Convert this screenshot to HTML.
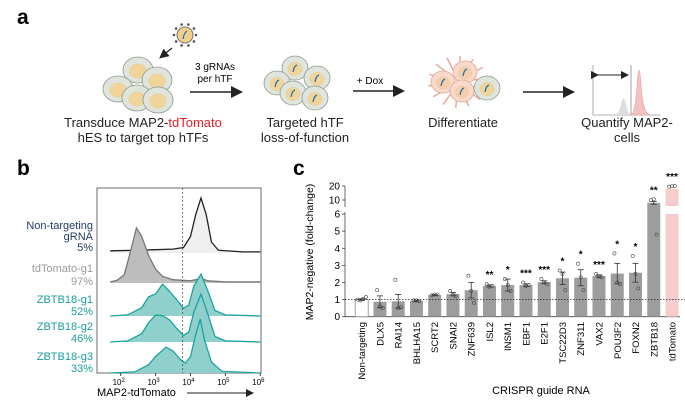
<!DOCTYPE html>
<html><head><meta charset="utf-8"><style>
body{margin:0;background:#fff}
svg{display:block;font-family:"Liberation Sans",sans-serif}
</style></head><body>
<svg id="fig" width="685" height="400" viewBox="0 0 685 400" xmlns="http://www.w3.org/2000/svg">
<defs><marker id="ah" markerWidth="8" markerHeight="8" refX="6" refY="4" orient="auto"><path d="M0,0 L8,4 L0,8 z" fill="#222"/></marker></defs>
<g>
<text x="17" y="24" font-size="21" font-weight="bold">a</text>
<g id="virus"></g>
<line x1="172" y1="48" x2="161" y2="57" stroke="#222" stroke-width="1.2" marker-end="url(#ah)"/>
<g id="c1"></g>
<text x="215" y="70" font-size="10" text-anchor="middle">3 gRNAs</text>
<text x="215" y="82" font-size="10" text-anchor="middle">per hTF</text>
<line x1="190" y1="92" x2="240" y2="92" stroke="#222" stroke-width="1.5" marker-end="url(#ah)"/>
<g id="c2"></g>
<text x="370" y="84" font-size="10" text-anchor="middle">+ Dox</text>
<line x1="353" y1="91" x2="402" y2="91" stroke="#222" stroke-width="1.5" marker-end="url(#ah)"/>
<g id="c3"></g>
<line x1="523" y1="92" x2="572" y2="92" stroke="#222" stroke-width="1.5" marker-end="url(#ah)"/>
<g>
<polyline points="593,65 593,115 660,115" fill="none" stroke="#999" stroke-width="0.8"/>
<path d="M613,115 Q619,115 621,104 Q623,93 626,104 Q628,114 631,115 z" fill="#ddd"/>
<path d="M631,115 Q635,114 637,85 Q639,55 641,85 Q643,114 650,115 z" fill="#f2c2c2" stroke="#e8a0a0" stroke-width="0.6"/>
<line x1="631" y1="65" x2="631" y2="115" stroke="#888" stroke-width="0.8"/>
<line x1="597" y1="75" x2="627" y2="75" stroke="#222" stroke-width="1" marker-end="url(#ah)" marker-start="url(#ah)"/>
</g>
<g font-size="13" text-anchor="middle" fill="#222">
<text x="143" y="127">Transduce MAP2-<tspan fill="#e8202a">tdTomato</tspan></text>
<text x="143" y="142">hES to target top hTFs</text>
<text x="305" y="127">Targeted hTF</text>
<text x="305" y="142">loss-of-function</text>
<text x="463" y="127">Differentiate</text>
<text x="627" y="127">Quantify MAP2-</text>
<text x="627" y="142">cells</text>
</g>
</g>
<g>
<text x="17" y="175" font-size="21" font-weight="bold">b</text>
<g id="hist"></g>
</g>
<g>
<text x="293" y="175" font-size="21" font-weight="bold">c</text>
<g id="bars"></g>
</g>
</svg>
<script>
const NS="http://www.w3.org/2000/svg";
function mk(p,tag,at,txt){const e=document.createElementNS(NS,tag);for(const k in at)e.setAttribute(k,at[k]);if(txt!==undefined)e.textContent=txt;p.appendChild(e);return e;}
function cell(p,x,y,rx,ry,outer,stroke,nuc,mark){
 mk(p,'ellipse',{cx:x,cy:y,rx:rx,ry:ry,fill:outer,stroke:stroke,'stroke-width':0.8});
 mk(p,'ellipse',{cx:x,cy:y+1,rx:rx*0.55,ry:ry*0.55,fill:nuc,stroke:'#d9b97a','stroke-width':0.5,'stroke-dasharray':'1 1'});
 if(mark)mk(p,'path',{d:`M${x-2},${y+4} Q${x-1},${y-2} ${x+2},${y-3}`,stroke:'#1a6fb5','stroke-width':1.2,fill:'none'});
}
const v=document.getElementById('virus');
for(let i=0;i<10;i++){const a=i*Math.PI/5;mk(v,'circle',{cx:185+11*Math.cos(a),cy:35+11*Math.sin(a),r:1.3,fill:'#555'});}
mk(v,'circle',{cx:185,cy:35,r:8,fill:'#f3d08a',stroke:'#777','stroke-width':1});
mk(v,'path',{d:'M183,39 Q184,33 187,31',stroke:'#1a6fb5','stroke-width':1.2,fill:'none'});
const c1=document.getElementById('c1');
[[138,70],[118,89],[157,80],[137,98],[158,100]].forEach(q=>cell(c1,q[0],q[1],15,13,'#dfe5dc','#8c9a8a','#f1d49a',false));
const c2=document.getElementById('c2');
[[295,68],[277,83],[317,78],[293,93],[315,98]].forEach(q=>cell(c2,q[0],q[1],13,12,'#dfe5dc','#8c9a8a','#f1d49a',true));
const c3=document.getElementById('c3');
for(let i=0;i<14;i++){const a=i*Math.PI/7+0.3;const cx=458,cy=82;mk(c3,'line',{x1:cx+10*Math.cos(a),y1:cy+10*Math.sin(a),x2:cx+30*Math.cos(a),y2:cy+26*Math.sin(a),stroke:'#e8a995','stroke-width':1.5});}
[[443,82],[465,72],[462,91]].forEach(q=>cell(c3,q[0],q[1],12,11,'#f8d9cc','#e0a898','#f6cfa8',true));
cell(c3,487,88,13,12,'#dfe5dc','#8c9a8a','#f1d49a',true);

const rowNames=['Non-targeting','tdTomato-g1','ZBTB18-g1','ZBTB18-g2','ZBTB18-g3'];
const rowPct=['5%','97%','52%','46%','33%'];
const row1=[[1.7,0.04],[2.5,0.05],[3,0.06],[3.5,0.07],[3.8,0.1],[4.0,0.3],[4.15,0.7],[4.3,1.0],[4.45,0.7],[4.6,0.2],[4.8,0.05],[5.5,0.02],[6,0.02]];
const row2=[[1.7,0.02],[1.9,0.05],[2.1,0.15],[2.25,0.5],[2.45,1.0],[2.6,0.85],[2.8,0.5],[3.0,0.25],[3.2,0.12],[3.5,0.06],[4.0,0.04],[4.3,0.08],[4.5,0.04],[5,0.02],[6,0.02]];
const row3=[[1.7,0],[2.2,0.02],[2.6,0.15],[2.8,0.35],[3.0,0.4],[3.2,0.58],[3.4,0.45],[3.6,0.3],[3.8,0.14],[3.95,0.2],[4.1,0.55],[4.3,0.76],[4.5,0.45],[4.7,0.1],[5.0,0.02],[6,0]];
const row4=[[1.7,0],[2.2,0.02],[2.6,0.15],[2.8,0.35],[3.0,0.49],[3.2,0.48],[3.4,0.4],[3.6,0.25],[3.8,0.12],[3.95,0.18],[4.1,0.55],[4.3,0.87],[4.5,0.5],[4.7,0.1],[5.0,0.02],[6,0]];
const row5=[[1.7,0],[2.4,0.02],[2.8,0.15],[3.0,0.3],[3.3,0.47],[3.5,0.4],[3.7,0.25],[3.85,0.18],[4.0,0.3],[4.15,0.7],[4.28,0.98],[4.4,0.6],[4.6,0.2],[4.9,0.03],[6,0]];
const rows=[row1,row2,row3,row4,row5];
const baselines=[253,283,316,342,373];
const fills=['#f0f0f0','#bdbdbd','#8fd0cc','#8fd0cc','#8fd0cc'];
const strokes=['#222','#777','#1aa39e','#1aa39e','#1aa39e'];
const labCol=['#1f3a5f','#9a9a9a','#1a9e9a','#1a9e9a','#1a9e9a'];
const hx=l=>120.7+(l-2)*34.9;
const H=55;
const hg=document.getElementById('hist');
mk(hg,'rect',{x:97,y:188,width:164,height:185,fill:'none',stroke:'#444','stroke-width':0.8});
rows.forEach((r,i)=>{
 const b=baselines[i];
 let d=`M${hx(r[0][0])},${b}`;r.forEach(p=>d+=` L${hx(p[0])},${b-p[1]*H}`);d+=` L${hx(r[r.length-1][0])},${b} Z`;
 const pf=mk(hg,'path',{d:d,fill:fills[i],stroke:'none'});
 
 
 let d2='';r.forEach((p,j)=>d2+=(j?' L':'M')+hx(p[0])+','+(b-p[1]*H));
 const pl=mk(hg,'path',{d:d2,fill:'none',stroke:strokes[i],'stroke-width':1.3});
 
 
});
mk(hg,'line',{x1:182.7,y1:188,x2:182.7,y2:373,stroke:'#444','stroke-width':0.7,'stroke-dasharray':'2 2'});
const lt=[[['Non-targeting',225],['gRNA',236],['5%',247]],[['tdTomato-g1',268],['97%',281]],[['ZBTB18-g1',299],['52%',311]],[['ZBTB18-g2',326],['46%',338]],[['ZBTB18-g3',356],['33%',368]]];
lt.forEach((g,i)=>g.forEach(t=>{const e=mk(hg,'text',{x:93,y:t[1]+4,'font-size':11,'text-anchor':'end',fill:labCol[i]},t[0]);
 
 }));
const xTicks=[2,3,4,5,6];
xTicks.forEach(l=>{mk(hg,'line',{x1:hx(l),y1:373,x2:hx(l),y2:376,stroke:'#444'});
 const e=mk(hg,'text',{x:hx(l)-2,y:385,'font-size':8,'text-anchor':'middle'},'10');
 mk(e,'tspan',{dy:-3,'font-size':6},String(l));
 
 });
const xt=mk(hg,'text',{x:97,y:396,'font-size':11},'MAP2-tdTomato');


mk(hg,'line',{x1:187,y1:393,x2:252,y2:393,stroke:'#222','stroke-width':1,'marker-end':'url(#ah)'});

const categories=['Non-targeting','DLX5','RAI14','BHLHA15','SCRT2','SNAI2','ZNF639','ISL2','INSM1','EBF1','E2F1','TSC22D3','ZNF311','VAX2','POU3F2','FOXN2','ZBTB18','tdTomato'];
const means=[1.0,0.87,0.9,0.93,1.27,1.32,1.55,1.8,1.85,1.85,2.02,2.25,2.28,2.38,2.52,2.57,8.0,17.9];
const sems=[0.05,0.35,0.4,0.03,0.03,0.1,0.45,0.06,0.35,0.07,0.08,0.36,0.47,0.07,0.6,0.55,1.0,0];
const replicates=[[1.0,0.95,1.05,1.15],[1.55,0.6,0.5],[2.15,0.5,0.55],[0.95,0.95,0.9],[1.25,1.3,1.3],[1.5,1.3,1.2],[2.4,1.5,0.8],[1.9,1.75,1.8],[2.2,1.85,1.5],[2.0,1.8,1.85],[2.2,2.0,1.9],[2.7,2.5,1.55],[3.1,2.3,1.55],[2.5,2.35,2.3],[3.7,2.0,1.9],[3.55,2.5,1.65],[9.9,10.5,4.8],[19.5,19.8,20]];
const stars=['','','','','','','','**','*','***','***','*','*','***','*','*','**','***'];
const yTicks=[0,1,2,3,4,5,6,10,20];
const bg=document.getElementById('bars');
const yS=v=>v<=6?316.7-v*17.1:200-(v-10)*1.4;
const xS=i=>361.7+i*17.24*18/17;
const BW=13;
mk(bg,'line',{x1:345,y1:316.7,x2:345,y2:212,stroke:'#444','stroke-width':0.8});
mk(bg,'line',{x1:345,y1:207,x2:345,y2:186,stroke:'#444','stroke-width':0.8});
mk(bg,'line',{x1:345,y1:316.7,x2:680,y2:316.7,stroke:'#444','stroke-width':0.8});
yTicks.forEach(t=>{const y=yS(t);mk(bg,'line',{x1:342,y1:y,x2:345,y2:y,stroke:'#444','stroke-width':0.8});
 const e=mk(bg,'text',{x:340,y:y+3.5,'font-size':10,'text-anchor':'end'},String(t));
 
 });
const yl=mk(bg,'text',{x:0,y:0,'font-size':10.5,'text-anchor':'middle',transform:'translate(313,252) rotate(-90)'},'MAP2-negative (fold-change)');


categories.forEach((c,i)=>{
 const x=xS(i),m=means[i];
 const last=i===categories.length-1;
 const fill=i===0?'#fff':(last?'#f6cccc':'#9c9e9d');
 const r=mk(bg,'rect',{x:x-BW/2,y:yS(m),width:BW,height:316.7-yS(m),fill:fill,stroke:i===0?'#888':'none','stroke-width':0.8});
 
 
 if(last){mk(bg,'rect',{x:x-BW/2-1,y:206,width:BW+2,height:8,fill:'#fff'});}
 if(sems[i]>0){const t=yS(m+sems[i]),b=yS(m-sems[i]);
  mk(bg,'line',{x1:x,y1:t,x2:x,y2:b,stroke:'#333','stroke-width':0.8});
  mk(bg,'line',{x1:x-3,y1:t,x2:x+3,y2:t,stroke:'#333','stroke-width':0.8});
  mk(bg,'line',{x1:x-3,y1:b,x2:x+3,y2:b,stroke:'#333','stroke-width':0.8});}
 replicates[i].forEach((p,j)=>{const pt=mk(bg,'circle',{cx:x+(j-(replicates[i].length-1)/2)*2.8,cy:yS(p),r:1.6,fill:'none',stroke:'#444','stroke-width':0.6});
  
  });
 if(stars[i]){const top=Math.max(...replicates[i]);
  const s=mk(bg,'text',{x:x,y:yS(top)-6,'font-size':10,'text-anchor':'middle','font-weight':'bold'},stars[i]);
  
  }
 const lab=mk(bg,'text',{x:0,y:0,'font-size':9.5,'text-anchor':'end',transform:`translate(${x+3.5},322) rotate(-90)`},c);
 
 
});
mk(bg,'line',{x1:345,y1:yS(1),x2:685,y2:yS(1),stroke:'#222','stroke-width':0.8,'stroke-dasharray':'1.5 1.5'});
const xl=mk(bg,'text',{x:541,y:394,'font-size':11,'text-anchor':'middle'},'CRISPR guide RNA');


</script>
</body></html>
